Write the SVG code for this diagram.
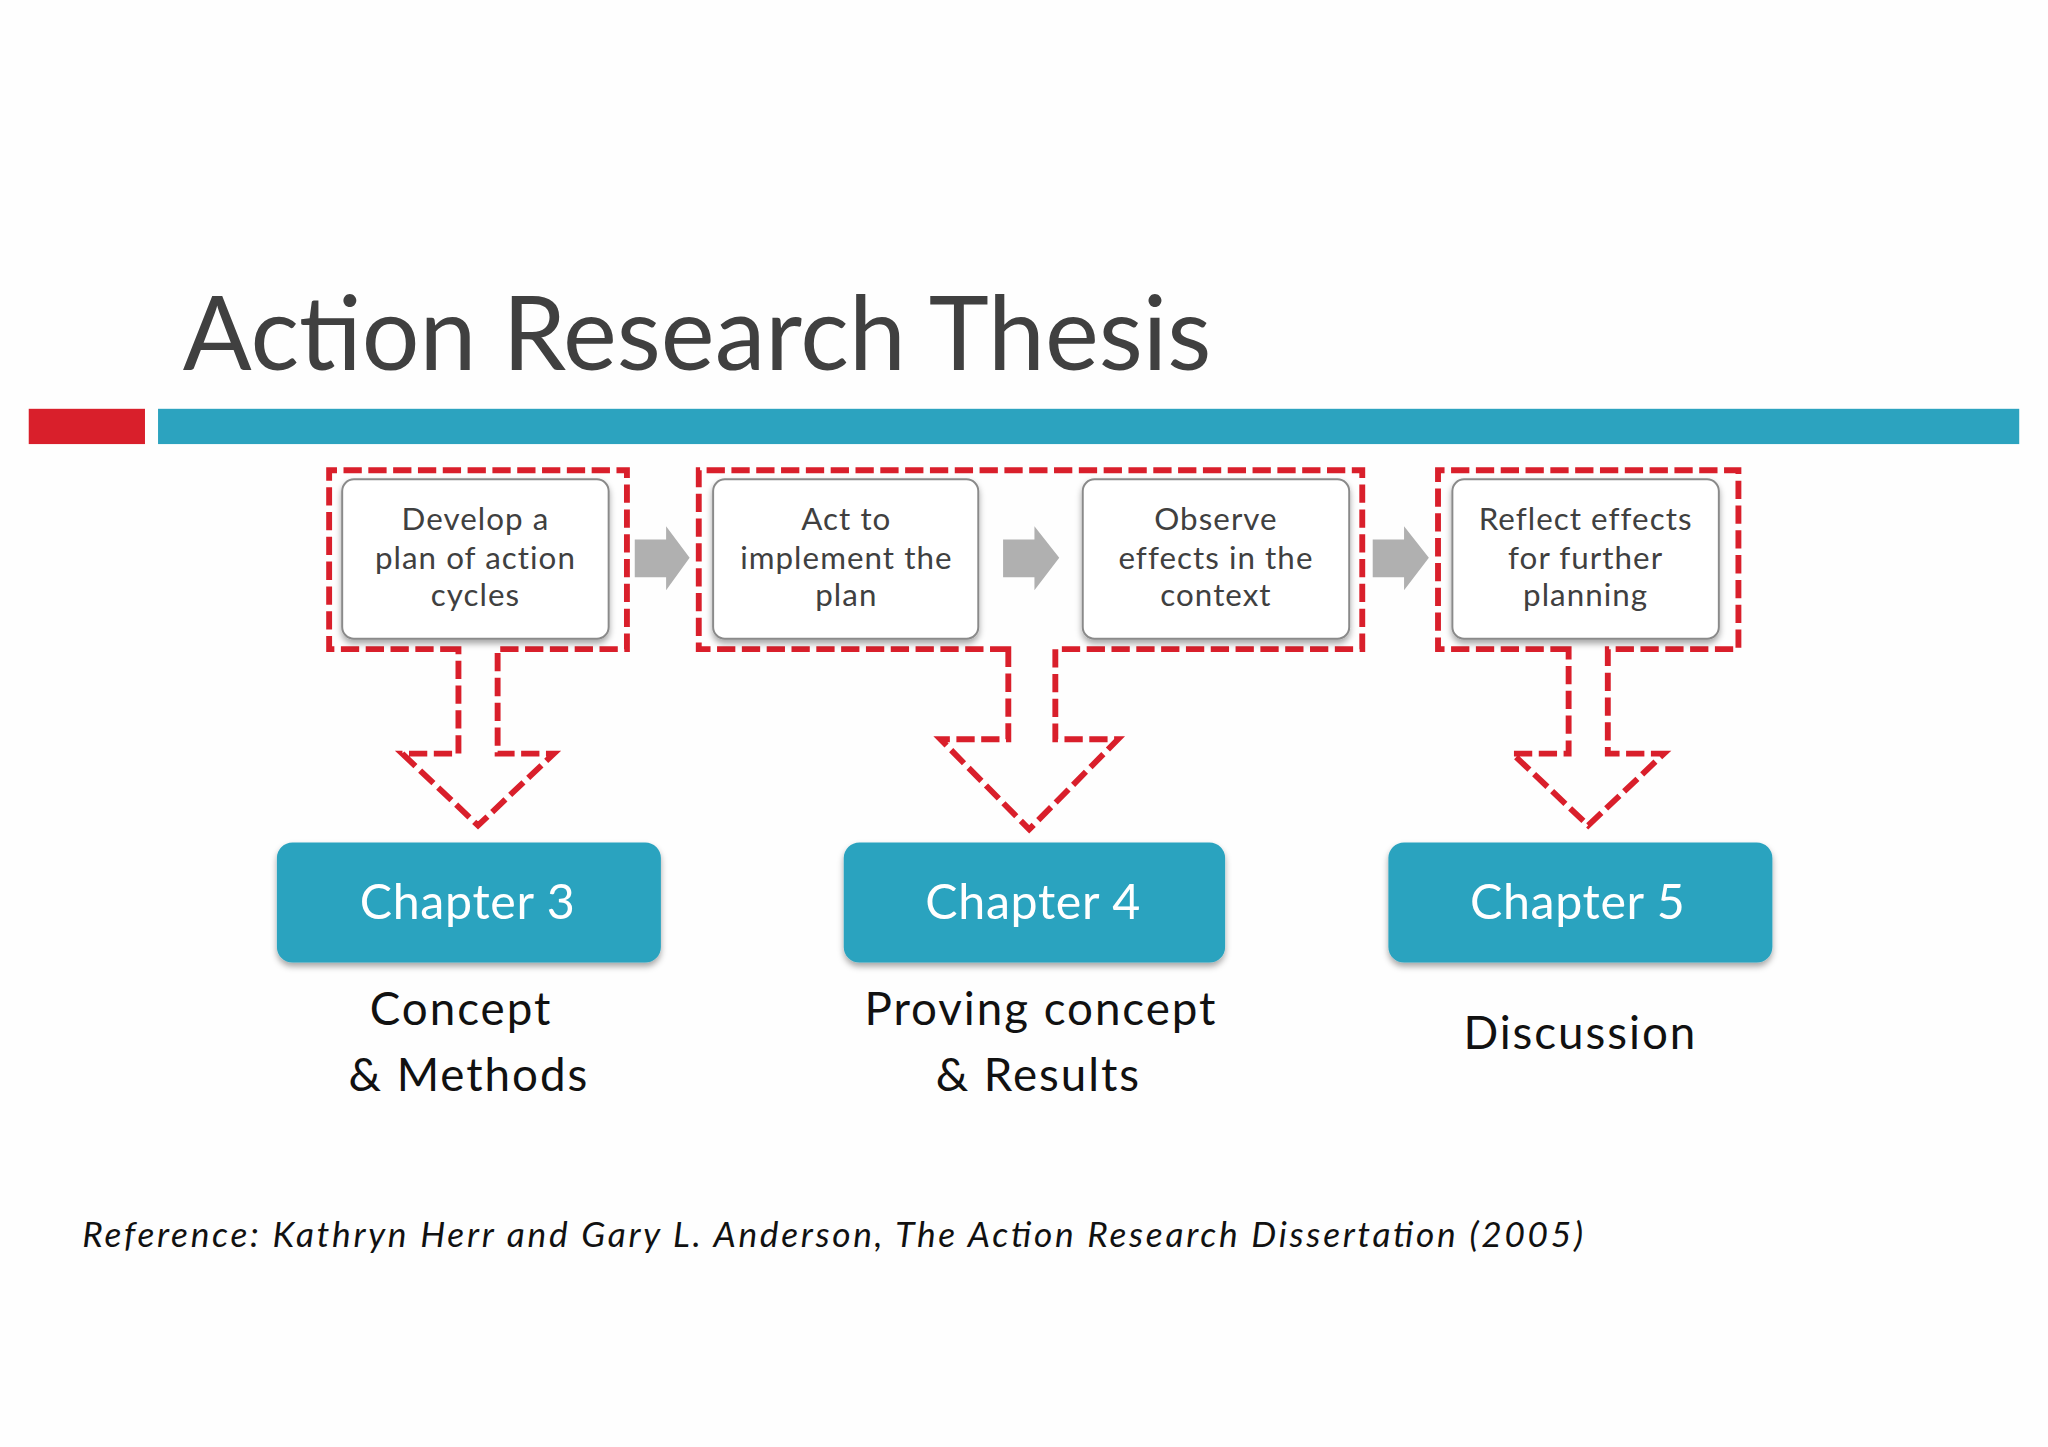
<svg xmlns="http://www.w3.org/2000/svg" width="2048" height="1447" viewBox="0 0 2048 1447">
<style>
.t{font-family:"Century Gothic","URW Gothic","Lato","Liberation Sans",sans-serif}
.box{fill:#fff;stroke:#8a8a8a;stroke-width:1.5;filter:url(#sh)}
.bt{font-size:24px;fill:#404040;text-anchor:middle;letter-spacing:0.8px}
.dash{fill:none;stroke:#d91f2b;stroke-width:4.5;stroke-dasharray:14 5}
.ch{fill:#2ca3bf;filter:url(#sh)}
.ct{font-size:37px;fill:#fff;text-anchor:middle;letter-spacing:0.5px}
.lb{font-size:35px;fill:#111;text-anchor:middle;letter-spacing:1.5px}
.ga{fill:#b0b0b0}
</style>
<defs>
<filter id="sh" x="-10%" y="-10%" width="120%" height="130%"><feDropShadow dx="0" dy="3" stdDeviation="2.5" flood-color="#000" flood-opacity="0.35"/></filter>
</defs>
<rect width="2048" height="1447" fill="#fefefe"/>
<g transform="scale(1.3061)">
<text class="t" x="140" y="283" font-size="78" fill="#404040">Action Research Thesis</text>
<rect x="22" y="313" width="89" height="27" fill="#d91f2b"/>
<rect x="121" y="313" width="1425" height="27" fill="#2ca3bf"/>

<g id="connectors">
<path class="ga" d="M486,413 H510 V403 L528,427 L510,452 V442 H486 Z"/>
<path class="ga" d="M768,413 H792 V403 L811,427 L792,452 V442 H768 Z"/>
<path class="ga" d="M1051,413 H1075 V403 L1094,427 L1075,452 V442 H1051 Z"/>
<path class="dash" d="M351,497 H252 V360 H480 V497 H381 V577 H424 L366,632 L308,577 H351 Z"/>
<path class="dash" d="M772,497 H535 V360 H1043 V497 H808 V566 H856 L788,635 L720,566 H772 Z"/>
<path class="dash" d="M1201,497 H1101 V360 H1331 V497 H1231 V577 H1274 L1216,632 L1158,577 H1201 Z"/>
</g>

<g id="n1"><rect class="box" x="262" y="367" width="204" height="122" rx="9"/>
<text class="t bt" x="364" y="406">Develop a</text><text class="t bt" x="364" y="436">plan of  action</text><text class="t bt" x="364" y="464">cycles</text></g>
<g id="n2"><rect class="box" x="546" y="367" width="203" height="122" rx="9"/>
<text class="t bt" x="648" y="406">Act to</text><text class="t bt" x="648" y="436">implement the</text><text class="t bt" x="648" y="464">plan</text></g>
<g id="n3"><rect class="box" x="829" y="367" width="204" height="122" rx="9"/>
<text class="t bt" x="931" y="406">Observe</text><text class="t bt" x="931" y="436">effects  in the</text><text class="t bt" x="931" y="464">context</text></g>
<g id="n4"><rect class="box" x="1112" y="367" width="204" height="122" rx="9"/>
<text class="t bt" x="1214" y="406">Reflect effects</text><text class="t bt" x="1214" y="436">for further</text><text class="t bt" x="1214" y="464">planning</text></g>

<g id="c3"><rect class="ch" x="212" y="645" width="294" height="92" rx="12"/><text class="t ct" x="358" y="704">Chapter 3</text></g>
<g id="c4"><rect class="ch" x="646" y="645" width="292" height="92" rx="12"/><text class="t ct" x="791" y="704">Chapter 4</text></g>
<g id="c5"><rect class="ch" x="1063" y="645" width="294" height="92" rx="12"/><text class="t ct" x="1208" y="704">Chapter 5</text></g>

<text class="t lb" x="353" y="785">Concept</text><text class="t lb" x="359" y="835">&amp; Methods</text>
<text class="t lb" x="797" y="785">Proving concept</text><text class="t lb" x="795" y="835">&amp; Results</text>
<text class="t lb" x="1210" y="803">Discussion</text>
<text class="t" x="63" y="955" font-size="27" font-style="italic" fill="#111" textLength="1149" lengthAdjust="spacing">Reference: Kathryn Herr and Gary L. Anderson, The Action Research Dissertation (2005)</text>
</g>
</svg>
